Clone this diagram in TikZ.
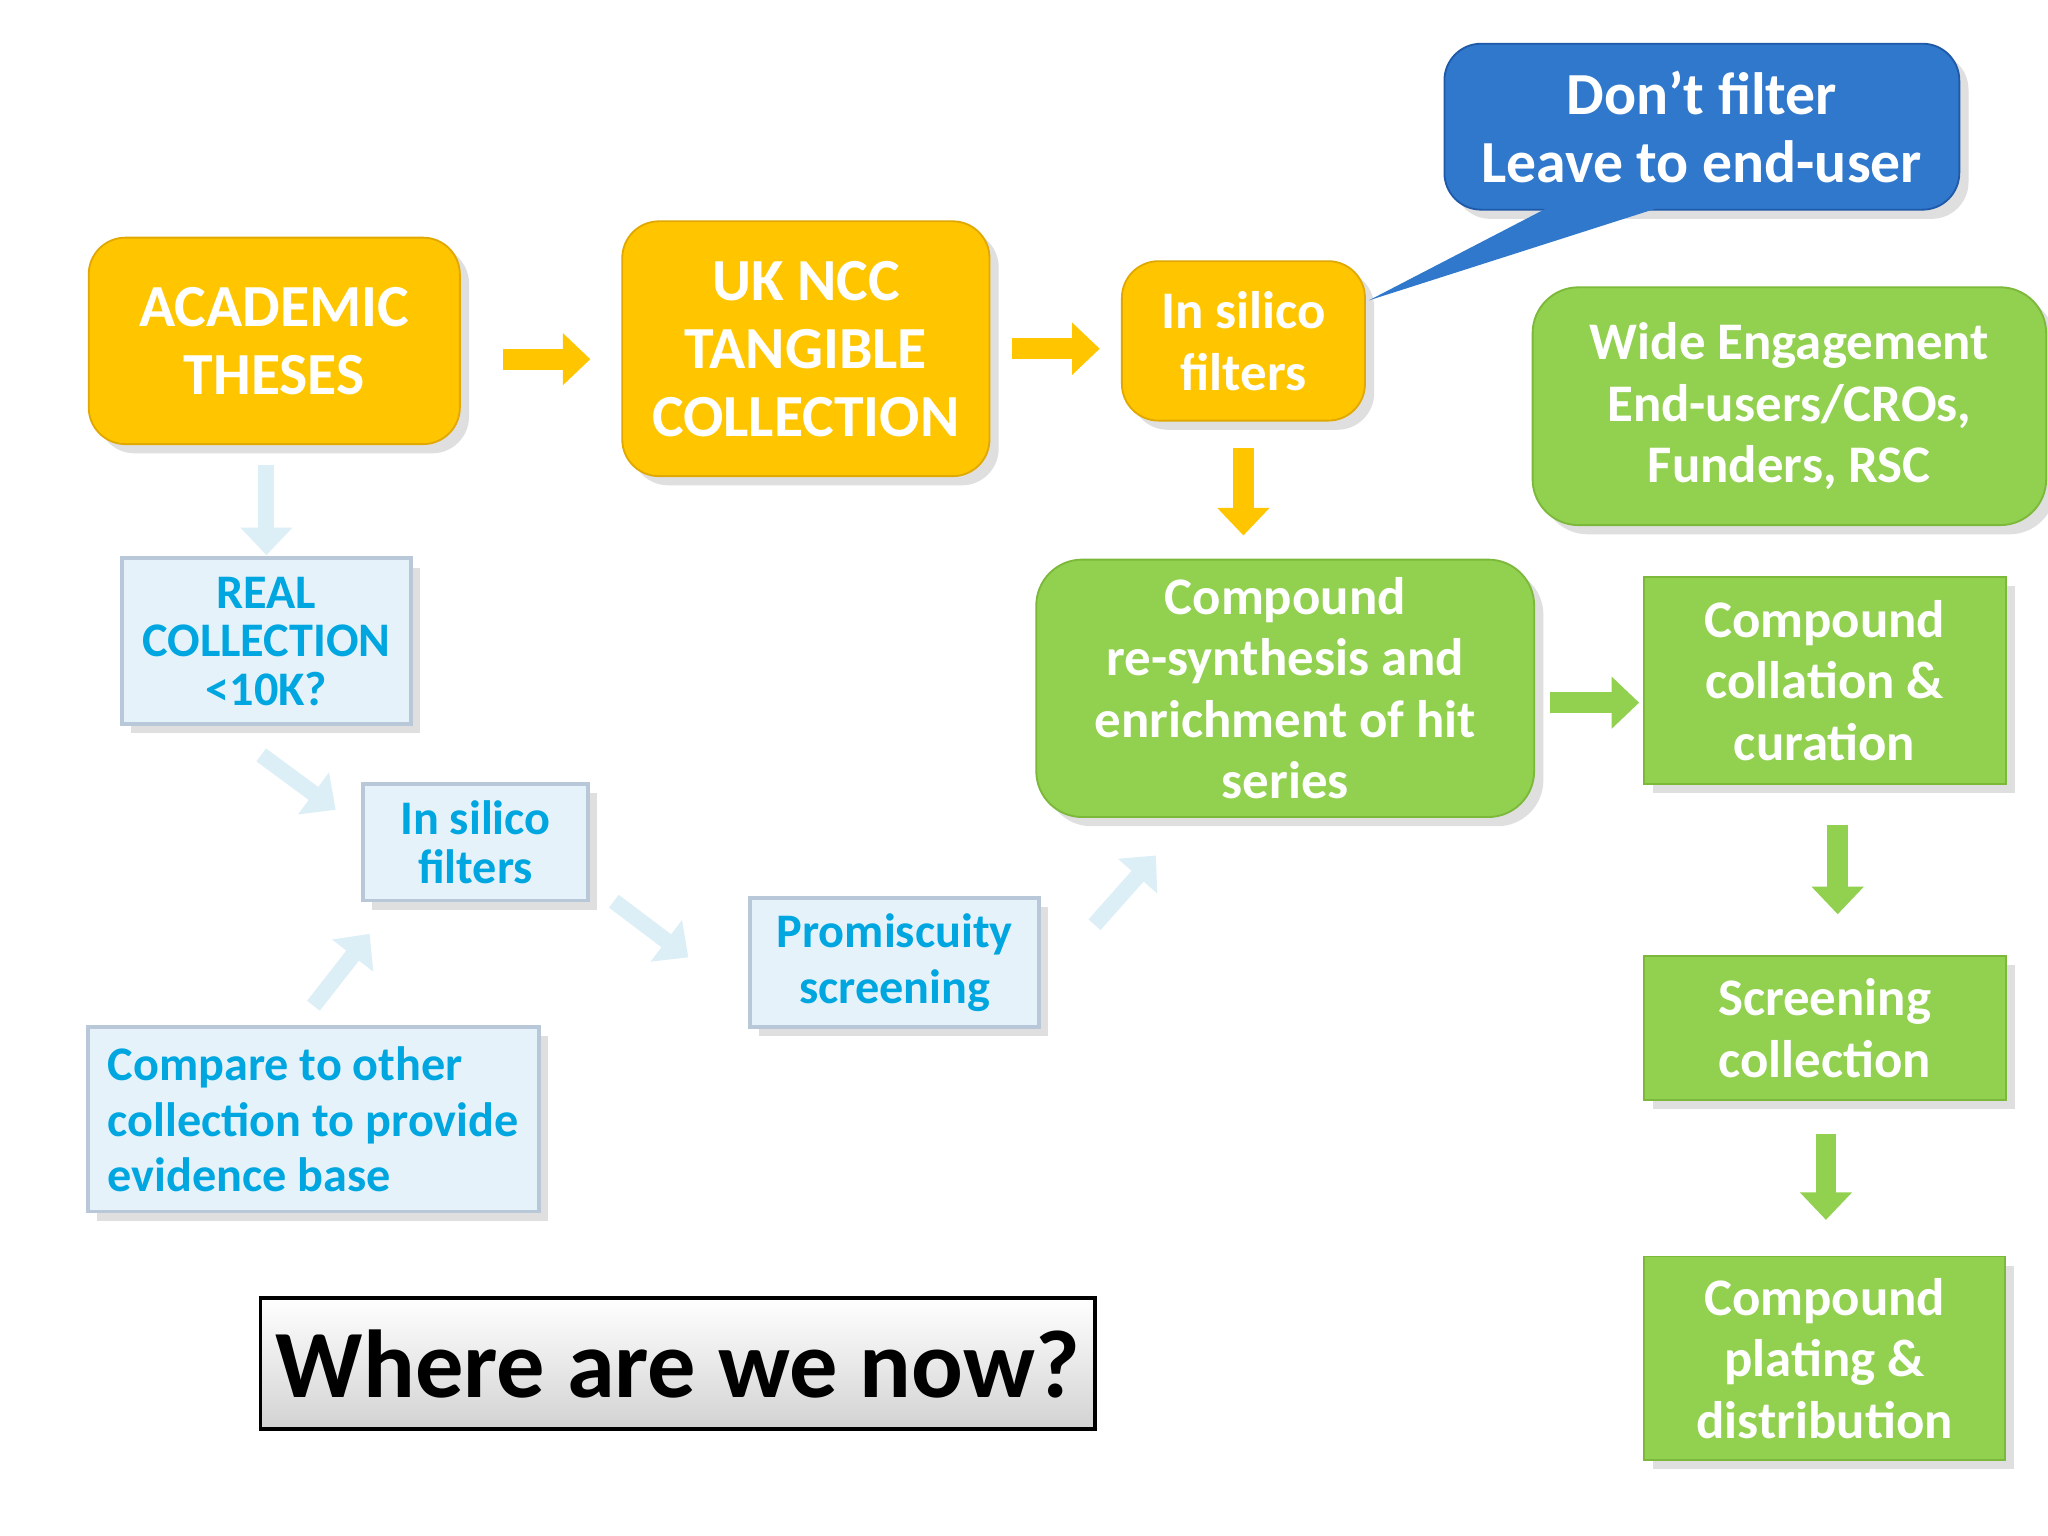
\documentclass[tikz,border=0pt]{standalone}
\usepackage{fontspec}
\setmainfont{Carlito}
\usetikzlibrary{arrows.meta,shadows}
\definecolor{ylw}{HTML}{FFC600}
\definecolor{ylwd}{HTML}{E0A800}
\definecolor{grn}{HTML}{92D050}
\definecolor{grnd}{HTML}{7CB83A}
\definecolor{blu}{HTML}{2F78CC}
\definecolor{blud}{HTML}{1F5AA8}
\definecolor{pale}{HTML}{E6F2FA}
\definecolor{paled}{HTML}{B8C8D8}
\definecolor{cyn}{HTML}{00A6E0}
\definecolor{parr}{HTML}{DCEEF6}
\tikzset{
 box/.style={inner sep=0pt,align=center,text=white,font=\bfseries,drop shadow={opacity=0.25,shadow xshift=2pt,shadow yshift=-2pt}},
 ybox/.style={box,fill=ylw,draw=ylwd,rounded corners=8pt},
 gbox/.style={box,fill=grn,draw=grnd},
 lbox/.style={box,fill=pale,draw=paled,text=cyn,line width=0.8pt},
 barr/.style={line width=#1,-{Triangle[length=6pt,width=11pt]}},
 big/.style={font=\fontsize{13}{14.8}\selectfont\bfseries},
 mid/.style={font=\fontsize{11.5}{13.4}\selectfont\bfseries},
 sml/.style={font=\fontsize{10.5}{10.6}\selectfont\bfseries},
 smlw/.style={font=\fontsize{10.5}{12}\selectfont\bfseries},
}
\begin{document}
\begin{tikzpicture}[x=0.01cm,y=-0.01cm]
\fill[white] (0,0) rectangle (1568,1176);
% yellow
\node[ybox,big,minimum width=2.84cm,minimum height=1.58cm] (ac) at (210,261) {ACADEMIC\\THESES};
\node[ybox,big,minimum width=2.81cm,minimum height=1.95cm] (uk) at (617,267) {UK NCC\\TANGIBLE\\COLLECTION};
\node[ybox,mid,minimum width=1.86cm,minimum height=1.22cm] (is) at (952,261) {In silico\\filters};
% blue callout
\node[box,big,fill=blu,draw=blud,rounded corners=8pt,minimum width=3.94cm,minimum height=1.27cm] (df) at (1303,97) {Don’t filter\\Leave to end-user};
\coordinate (tip) at (1048,230);
\fill[blu] (1185,159) -- (tip) -- (1270,159) -- cycle;
% green
\node[gbox,mid,rounded corners=10pt,minimum width=3.93cm,minimum height=1.82cm] (we) at (1370,311) {Wide Engagement\\End-users/CROs,\\Funders, RSC};
\node[gbox,mid,rounded corners=10pt,minimum width=3.81cm,minimum height=1.97cm] (cr) at (984,527) {Compound\\re-synthesis and\\enrichment of hit\\series};
\node[gbox,mid,minimum width=2.77cm,minimum height=1.58cm] (cc) at (1397,521) {Compound\\collation \&\\curation};
\node[gbox,mid,minimum width=2.77cm,minimum height=1.10cm] (sc) at (1397,787) {Screening\\collection};
\node[gbox,mid,minimum width=2.76cm,minimum height=1.56cm] (cp) at (1397,1040) {Compound\\plating \&\\distribution};
% light
\node[lbox,sml,minimum width=2.21cm,minimum height=1.27cm] (rc) at (204,491) {REAL\\COLLECTION\\<10K?};
\node[lbox,sml,minimum width=1.72cm,minimum height=0.89cm] (is2) at (364,645) {In silico\\filters};
\node[lbox,smlw,minimum width=2.21cm,minimum height=0.99cm] (pr) at (685,737) {Promiscuity\\screening};
\node[lbox,smlw,minimum width=3.45cm,minimum height=1.41cm,align=left] (cm) at (240,857) {\parbox{3.15cm}{\raggedright Compare to other\\collection to provide\\evidence base}};
% title
\node[draw=black,line width=0.8pt,top color=white,bottom color=gray!35,minimum width=6.18cm,minimum height=1.0cm,font=\fontsize{21}{24}\selectfont\bfseries] (wh) at (519,1044) {Where are we now?};
% arrows
\draw[barr=4.5pt,ylw] (385,275) -- (452,275);
\draw[barr=4.5pt,ylw] (775,267) -- (842,267);
\draw[barr=4.5pt,ylw] (952,343) -- (952,410);
\draw[barr=4.5pt,grn] (1187,538) -- (1255,538);
\draw[barr=4.5pt,grn] (1407,632) -- (1407,700);
\draw[barr=4.5pt,grn] (1398,868) -- (1398,934);
\draw[barr=3.5pt,parr] (204,356) -- (204,425);
\draw[barr=3.5pt,parr] (200,578) -- (257,620);
\draw[barr=3.5pt,parr] (470,690) -- (527,733);
\draw[barr=3.5pt,parr] (240,770) -- (283,715);
\draw[barr=3.5pt,parr] (838,708) -- (885,655);
\end{tikzpicture}
\end{document}
